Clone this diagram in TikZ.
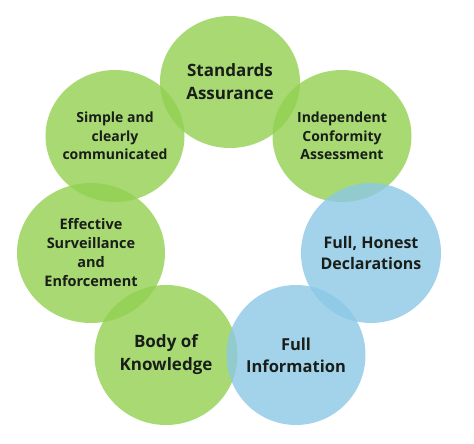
\documentclass[tikz,border=0pt]{standalone}
\usepackage{fontspec}
\setmainfont{Open Sans}
\usepackage{tikz}
\usetikzlibrary{shapes.geometric}

\definecolor{ringgreen}{RGB}{146,208,80}
\definecolor{ringblue}{RGB}{140,200,230}
\definecolor{ringtext}{RGB}{25,30,25}

\begin{document}
\begin{tikzpicture}[
    x=1pt, y=-1pt,
    bubble/.style={ellipse, draw=none, fill=ringgreen, fill opacity=0.8, text opacity=1, text=ringtext, inner sep=-12pt, minimum width=140pt, minimum height=140pt, align=center},
    bluebubble/.style={bubble, fill=ringblue},
    bigtext/.style={font=\fontsize{17}{23}\selectfont\bfseries},
    smalltext/.style={font=\fontsize{14}{18.5}\selectfont\bfseries},
    midtext/.style={font=\fontsize{14.5}{19}\selectfont\bfseries}
]
    \useasboundingbox (0,0) rectangle (474,444);

    % Ring of bubbles
    \node[bubble, bigtext, minimum height=132pt] (standards) at (230,82) {Standards\\Assurance};
    \node[bubble, smalltext, minimum width=139pt, minimum height=132pt] (simple) at (115,136) {Simple and\\clearly\\communicated};
    \node[bubble, smalltext, minimum width=139pt, minimum height=132pt] (independent) at (342,136) {Independent\\Conformity\\Assessment};
    \node[bubble, midtext, minimum width=148pt] (surveillance) at (91,253) {Effective\\Surveillance\\and\\Enforcement};
    \node[bluebubble, font=\fontsize{16}{21}\selectfont\bfseries] (declarations) at (371,253) {Full, Honest\\Declarations};
    \node[bubble, bigtext, minimum width=143pt] (knowledge) at (166,355) {Body of\\Knowledge};
    \node[bluebubble, font=\fontsize{16.5}{22}\selectfont\bfseries, minimum width=139pt] (information) at (296,355) {Full\\Information};
\end{tikzpicture}
\end{document}
